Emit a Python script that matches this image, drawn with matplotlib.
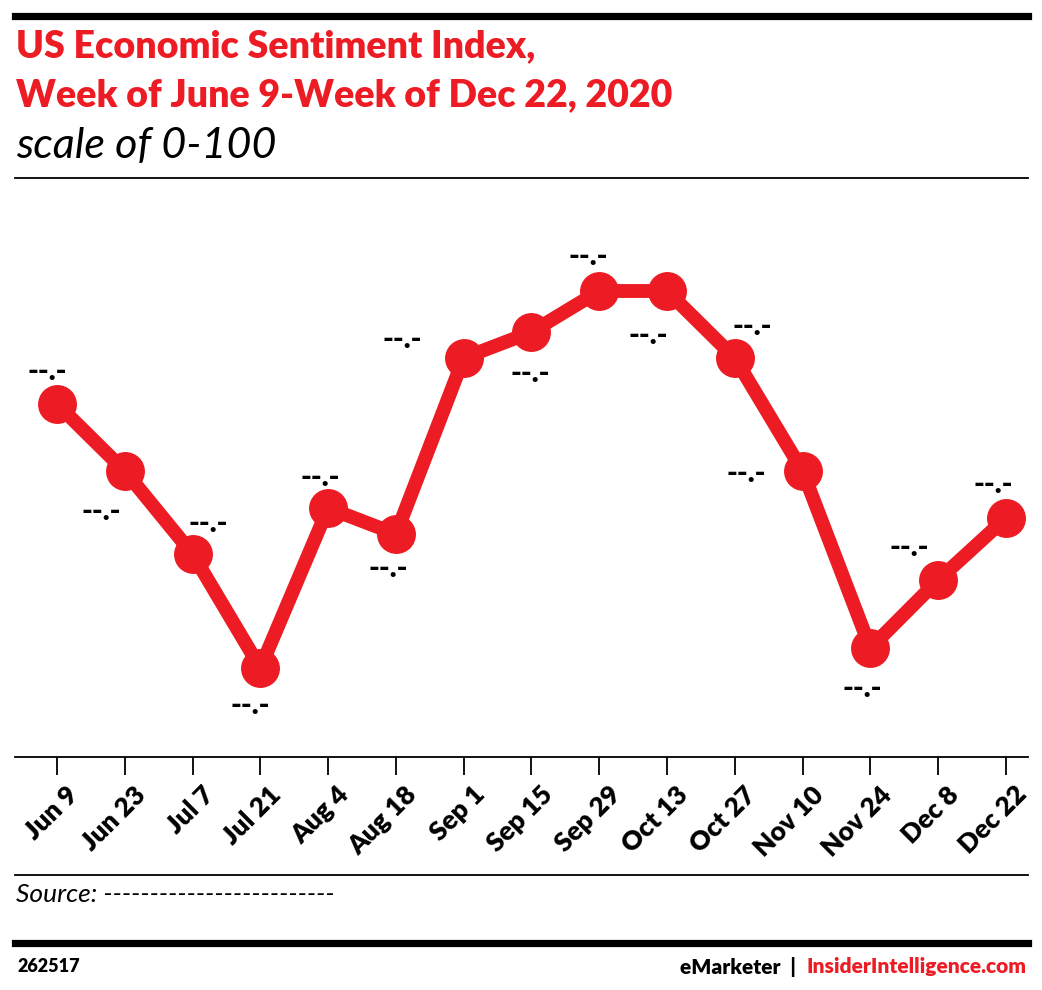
import matplotlib
matplotlib.use("Agg")
import matplotlib.pyplot as plt
import matplotlib.transforms as mtransforms

plt.rcParams['font.family'] = ['Lato', 'DejaVu Sans']

# data (values hidden in the original)
weeks = ["Jun 9", "Jun 23", "Jul 7", "Jul 21", "Aug 4", "Aug 18", "Sep 1", "Sep 15",
         "Sep 29", "Oct 13", "Oct 27", "Nov 10", "Nov 24", "Dec 8", "Dec 22"]
index_values = [35.3, 28.6, 20.3, 8.9, 24.9, 22.3, 39.9, 42.5,
                46.6, 46.6, 39.9, 28.6, 10.9, 17.7, 23.9]
value_labels = ["--.-"] * len(weeks)

RED = "#ED1C24"
W, H = 1042, 990

fig = plt.figure(figsize=(W / 100, H / 100), dpi=100)

def fx(px):
    return px / W

def fy(py):
    return 1 - py / H

# axes area
ax = fig.add_axes([fx(15), fy(757), fx(1028) - fx(15), fy(190) - fy(757)])
x = list(range(len(weeks)))
ax.plot(x, index_values, color=RED, lw=10, marker="o", ms=27, solid_capstyle="round",
        solid_joinstyle="round", zorder=3)
ax.set_xlim(-0.62, 14.325)
ax.set_ylim(0, 56.7)

for s in ["top", "right", "left"]:
    ax.spines[s].set_visible(False)
ax.spines["bottom"].set_linewidth(1.3)
ax.set_yticks([])
ax.set_xticks(x)
ax.tick_params(axis="x", length=13, width=1.3, pad=4)
ax.set_xticklabels(weeks, rotation=45, ha="right", va="center", rotation_mode="anchor",
                   fontsize=19, fontweight="heavy")
offset = mtransforms.ScaledTranslation(17 / 100, -10 / 100, fig.dpi_scale_trans)
for lab in ax.get_xticklabels():
    lab.set_transform(lab.get_transform() + offset)

# label offsets in pixels
label_offsets = [(-10, 32), (-24, -41), (16, 30), (-10, -38), (-8, 30), (-8, -35),
                 (-61, 18), (-1, -42), (-11, 34), (-19, -45), (17, 31), (-56, -3),
                 (-8, -41), (-29, 32), (-13, 33)]
for xi, v, lab, (dx, dy) in zip(x, index_values, value_labels, label_offsets):
    ax.annotate(lab, (xi, v), xytext=(dx, dy), textcoords="offset pixels",
                ha="center", va="center", fontsize=21, fontweight="heavy")

# header
fig.add_artist(plt.Line2D([fx(15), fx(1028)], [fy(15.5), fy(15.5)], color="black", lw=5.2))
fig.text(fx(16), fy(46), "US Economic Sentiment Index,", color=RED, fontsize=27,
         fontweight="heavy", va="center")
fig.text(fx(16), fy(95), "Week of June 9-Week of Dec 22, 2020", color=RED, fontsize=27,
         fontweight="heavy", va="center")
fig.text(fx(16), fy(146), "scale of 0-100", fontsize=31, style="italic", va="center")
fig.add_artist(plt.Line2D([fx(15), fx(1028)], [fy(178), fy(178)], color="black", lw=1.3))

# footer
fig.add_artist(plt.Line2D([fx(15), fx(1028)], [fy(875), fy(875)], color="black", lw=1.3))
fig.text(fx(16), fy(895), "Source: -------------------------", fontsize=19, style="italic",
         va="center")
fig.add_artist(plt.Line2D([fx(15), fx(1028)], [fy(943), fy(943)], color="black", lw=5.2))
fig.text(fx(17), fy(967), "262517", fontsize=13, fontweight="heavy", va="center")
fig.text(fx(1026), fy(967), "InsiderIntelligence.com", fontsize=15, fontweight="heavy",
         color=RED, ha="right", va="center")
fig.text(fx(806), fy(967), "eMarketer  |  ", fontsize=15, fontweight="heavy",
         ha="right", va="center")

fig.savefig("out.png", dpi=100)
